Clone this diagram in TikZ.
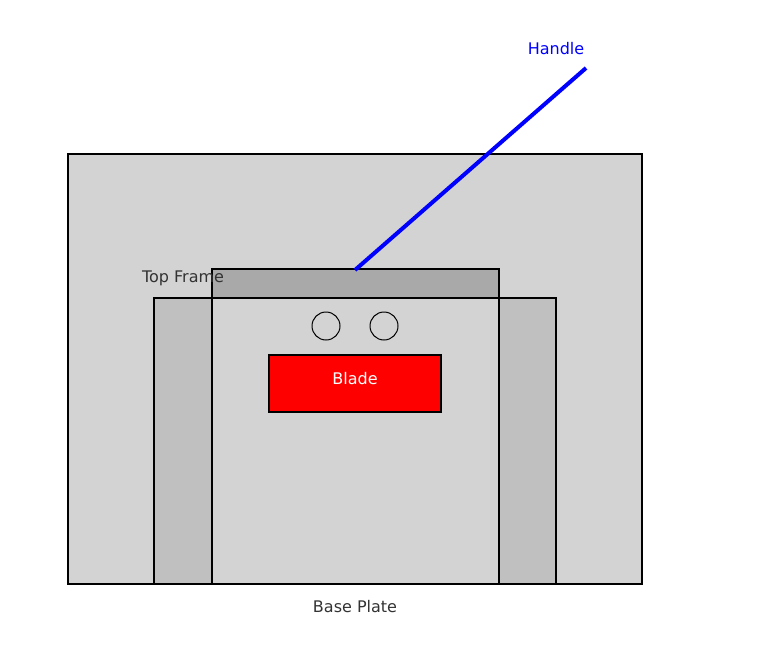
\documentclass[tikz,border=0pt]{standalone}
\usepackage{fontspec}
\setmainfont{DejaVu Sans}
\begin{document}
\begin{tikzpicture}[x=1pt,y=-1pt]
\tikzstyle{part}=[draw=black,line width=1.5pt]
\tikzstyle{lbl}=[font=\fontsize{16}{18}\selectfont,inner sep=0pt]
\useasboundingbox (0,0) rectangle (768,653);
% base and frame
\draw [part,fill={rgb,255:red,211;green,211;blue,211}] (68,154) rectangle (642,584);
\draw [part,fill={rgb,255:red,192;green,192;blue,192}] (154,298) rectangle (212,584);
\draw [part,fill={rgb,255:red,192;green,192;blue,192}] (499,298) rectangle (556,584);
\draw [part,fill={rgb,255:red,211;green,211;blue,211}] (212,298) rectangle (499,584);
\draw [part,fill={rgb,255:red,169;green,169;blue,169}] (212,269) rectangle (499,298);
% pins and blade
\draw [line width=1pt] (326,326) circle (14);
\draw [line width=1pt] (384,326) circle (14);
\draw [part,fill=red] (269,355) rectangle (441,412);
% handle
\coordinate (pivot) at (355,270);
\coordinate (grip) at (586,68);
\draw [blue,line width=4pt] (pivot) -- (grip);
% labels
\node [lbl,text=blue] (handle) at (556,49) {Handle};
\node [lbl,text={rgb,255:red,51;green,51;blue,51}] (topframe) at (183,278) {Top Frame};
\node [lbl,text=white] (blade) at (355,379) {Blade};
\node [lbl,text={rgb,255:red,51;green,51;blue,51}] (baseplate) at (355,607) {Base Plate};
\end{tikzpicture}
\end{document}
